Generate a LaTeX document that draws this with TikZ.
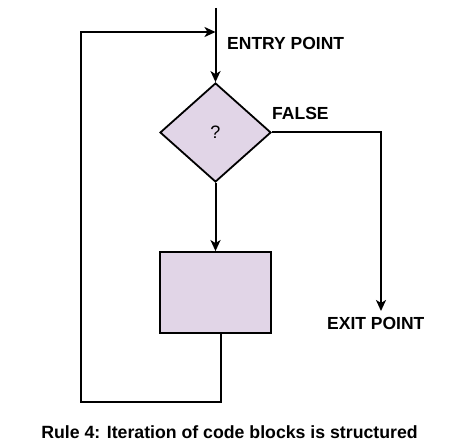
\documentclass[tikz,border=0pt]{standalone}
\usepackage{fontspec}
\setmainfont{Liberation Sans}
\usetikzlibrary{shapes.geometric,arrows.meta,calc}
\definecolor{boxfill}{HTML}{E1D5E7}
\begin{document}
\begin{tikzpicture}[x=1pt,y=-1pt,
  flow/.style={line width=2pt,-{Stealth[length=11pt,width=10pt,inset=3pt]}},
  shapebox/.style={draw=black,line width=1.8pt,fill=boxfill,inner sep=0pt},
  lbl/.style={font=\bfseries\fontsize{17.5}{20}\selectfont,inner sep=0pt}]
\useasboundingbox (0,0) rectangle (461,443);
\node[shapebox,diamond,minimum width=111pt,minimum height=99pt,font=\fontsize{18}{20}\selectfont] (dec) at (215.5,132.5) {?};
\node[shapebox,rectangle,minimum width=111pt,minimum height=81pt] (blk) at (215.5,292.5) {};
\coordinate (top) at (215.5,8);
\coordinate (join) at (215.5,32);
\coordinate (exit) at (381,311);
\coordinate (out) at (221,333);
\coordinate (bl) at (81,402);
\draw[flow] (top) -- (dec.north);
\draw[flow] (dec.south) -- (blk.north);
\draw[flow] (dec.east) -| (exit);
\draw[flow] (out) |- (bl) |- (join);
\node[lbl,anchor=west] (entry) at (227,43) {ENTRY POINT};
\node[lbl,anchor=west] (false) at (272,113) {FALSE};
\node[lbl,anchor=west] (exitlbl) at (327,323) {EXIT POINT};
\node[font=\bfseries\fontsize{17.7}{20}\selectfont,inner sep=0pt] (cap) at (229.5,432) {Rule 4: Iteration of code blocks is structured};
\end{tikzpicture}
\end{document}
